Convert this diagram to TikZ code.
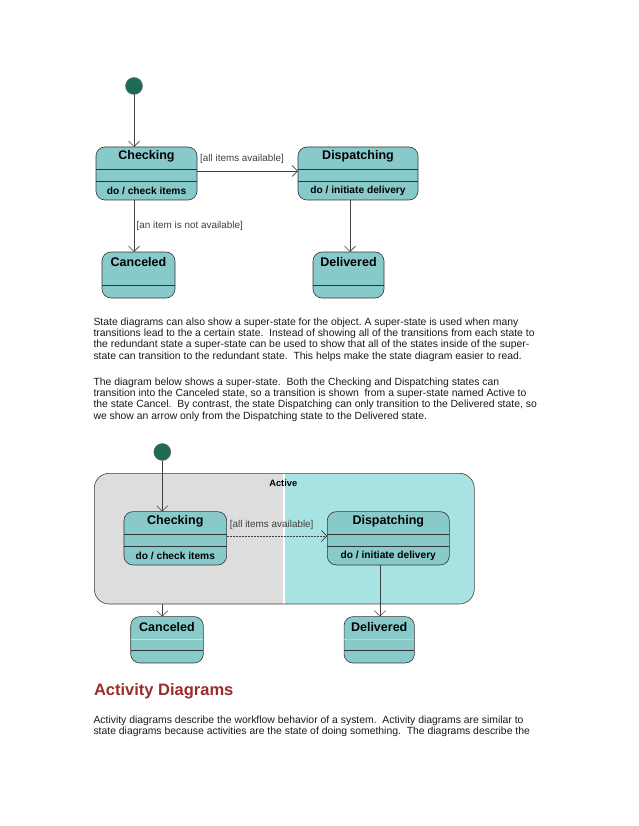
\documentclass[tikz,border=0pt]{standalone}
\usepackage{fontspec}
\setmainfont{Liberation Sans}
\usetikzlibrary{arrows.meta,calc}
\definecolor{stfill}{HTML}{88CACA}
\definecolor{dotc}{HTML}{1F6A55}
\definecolor{graybg}{HTML}{DDDDDD}
\definecolor{cyanbg}{HTML}{A8E3E3}
\definecolor{headc}{HTML}{9B2C2C}
\definecolor{txtc}{HTML}{1A1A1A}
\definecolor{faintc}{HTML}{A6DCDC}
\tikzset{
  st/.style={draw=black!80, fill=stfill, rounded corners=9pt, line width=0.6pt, inner sep=0pt, outer sep=0pt},
  sep/.style={draw=black!80, line width=0.6pt},
  nm/.style={font=\bfseries\fontsize{12.5}{14}\selectfont, inner sep=0pt},
  actv/.style={font=\bfseries\fontsize{10.2}{12}\selectfont, inner sep=0pt},
  grd/.style={font=\fontsize{9.9}{12}\selectfont, text=black!75, inner sep=0pt},
  tr/.style={-{Straight Barb[length=5.5pt,width=11pt]}, line width=0.6pt, draw=black!75},
  para/.style={font=\fontsize{10.4}{12}\selectfont, text=txtc, anchor=base west, inner sep=0pt},
  initdot/.style={circle, fill=dotc, draw=black!60, line width=0.4pt, minimum size=17pt, inner sep=0pt},
}
\begin{document}
\frenchspacing
\begin{tikzpicture}[x=1pt,y=-1pt]
\useasboundingbox[fill=white] (0,0) rectangle (638,826);

% ---------------- Diagram 1 ----------------
\node[initdot] (dot1) at (134,86) {};

\node[st, minimum width=101pt, minimum height=53pt] (chk1) at (146.5,173.5) {};
\draw[sep] ($(chk1.north west)+(0,22)$) -- ($(chk1.north east)+(0,22)$);
\draw[sep] ($(chk1.north west)+(0,34)$) -- ($(chk1.north east)+(0,34)$);
\node[nm] (chk1n) at (146.5,156) {Checking};
\node[actv] (chk1a) at (146.5,190.5) {do / check items};

\node[st, minimum width=120pt, minimum height=53pt] (dsp1) at (358,173.5) {};
\draw[sep] ($(dsp1.north west)+(0,22)$) -- ($(dsp1.north east)+(0,22)$);
\draw[sep] ($(dsp1.north west)+(0,34)$) -- ($(dsp1.north east)+(0,34)$);
\node[nm] (dsp1n) at (358,156) {Dispatching};
\node[actv] (dsp1a) at (358,190.5) {do / initiate delivery};

\node[st, minimum width=73pt, minimum height=46pt] (can1) at (138.5,275) {};
\draw[sep] ($(can1.north west)+(0,33)$) -- ($(can1.north east)+(0,33)$);
\node[nm] (can1n) at (138.5,262) {Canceled};

\node[st, minimum width=71pt, minimum height=46pt] (del1) at (348.5,275) {};
\draw[sep] ($(del1.north west)+(0,33)$) -- ($(del1.north east)+(0,33)$);
\node[nm] (del1n) at (348.5,262) {Delivered};

\coordinate (c1) at (134,0);
\coordinate (d1) at (350,0);
\draw[tr] (dot1) -- (dot1 |- chk1.north);
\draw[tr] ([yshift=2.5pt]chk1.east) -- ([yshift=2.5pt]dsp1.west);
\draw[tr] (chk1.south -| c1) -- (can1.north -| c1);
\draw[tr] (dsp1.south -| d1) -- (del1.north -| d1);
\node[grd] (g1) at (242,159) {[all items available]};
\node[grd, anchor=west] (g2) at (136.5,225.7) {[an item is not available]};

% ---------------- Text ----------------
\node[para] (p1a) at (93.3,325) {State diagrams can also show a super-state for the object. A super-state is used when many};
\node[para] (p1b) at (93.3,336.6) {transitions lead to the a certain state.\ \ Instead of showing all of the transitions from each state to};
\node[para] (p1c) at (93.3,347.8) {the redundant state a super-state can be used to show that all of the states inside of the super-};
\node[para] (p1d) at (93.3,359.1) {state can transition to the redundant state.\ \ This helps make the state diagram easier to read.};

\node[para] (p2a) at (93.3,385) {The diagram below shows a super-state.\ \ Both the Checking and Dispatching states can};
\node[para] (p2b) at (93.3,396.6) {transition into the Canceled state, so a transition is shown\ \ from a super-state named Active to};
\node[para] (p2c) at (93.3,407.8) {the state Cancel.\ \ By contrast, the state Dispatching can only transition to the Delivered state, so};
\node[para] (p2d) at (93.3,419.1) {we show an arrow only from the Dispatching state to the Delivered state.};

% ---------------- Diagram 2 ----------------
\begin{scope}
\clip[rounded corners=15pt] (94.3,473.3) rectangle (474.3,604);
\fill[graybg] (94.3,473.3) rectangle (284,604);
\fill[cyanbg] (284,473.3) rectangle (474.3,604);
\draw[white, line width=1.2pt] (284,473.3) -- (284,604);
\end{scope}
\node[draw=black!75, line width=0.6pt, rounded corners=15pt, minimum width=380pt, minimum height=130.7pt, inner sep=0pt, outer sep=0pt] (act) at (284.3,538.65) {};
\node[font=\bfseries\fontsize{9.3}{11}\selectfont, inner sep=0pt] (actn) at (283.3,483) {Active};

\node[initdot] (dot2) at (162.3,452) {};

\node[st, minimum width=102.7pt, minimum height=53.3pt] (chk2) at (175.3,538.3) {};
\draw[sep] ($(chk2.north west)+(0,22.3)$) -- ($(chk2.north east)+(0,22.3)$);
\draw[sep] ($(chk2.north west)+(0,34.3)$) -- ($(chk2.north east)+(0,34.3)$);
\node[nm] (chk2n) at (175.3,521) {Checking};
\node[actv] (chk2a) at (175.3,555.5) {do / check items};

\node[st, minimum width=122pt, minimum height=53.3pt] (dsp2) at (388.3,538.3) {};
\draw[sep] ($(dsp2.north west)+(0,22.3)$) -- ($(dsp2.north east)+(0,22.3)$);
\draw[sep] ($(dsp2.north west)+(0,34.3)$) -- ($(dsp2.north east)+(0,34.3)$);
\node[nm] (dsp2n) at (388.3,521) {Dispatching};
\node[actv] (dsp2a) at (388.3,555.5) {do / initiate delivery};

\node[st, minimum width=72.6pt, minimum height=46.3pt] (can2) at (167,639.8) {};
\draw[faintc!70!white, line width=0.6pt] ($(can2.north west)+(0,22.3)$) -- ($(can2.north east)+(0,22.3)$);
\draw[sep] ($(can2.north west)+(0,34)$) -- ($(can2.north east)+(0,34)$);
\node[nm] (can2n) at (167,627) {Canceled};

\node[st, minimum width=70.3pt, minimum height=46.3pt] (del2) at (379.2,639.8) {};
\draw[faintc, line width=0.8pt] ($(del2.north west)+(0,22.3)$) -- ($(del2.north east)+(0,22.3)$);
\draw[sep] ($(del2.north west)+(0,34)$) -- ($(del2.north east)+(0,34)$);
\node[nm] (del2n) at (379.2,627) {Delivered};

\coordinate (d2) at (380,0);
\draw[tr] (dot2) -- (dot2 |- chk2.north);
\draw[tr, dash pattern=on 2pt off 1pt] ([yshift=2.3pt]chk2.east) -- ([yshift=2.3pt]dsp2.west);
\draw[tr] (act.south -| dot2) -- (can2.north -| dot2);
\draw[tr] (dsp2.south -| d2) -- (del2.north -| d2);
\node[grd] (g3) at (271.7,525) {[all items available]};

% ---------------- Heading and text ----------------
\node[font=\bfseries\fontsize{16.5}{19}\selectfont, text=headc, anchor=base west, inner sep=0pt] (head) at (93.8,695) {Activity Diagrams};
\node[para] (p3a) at (93.3,723.3) {Activity diagrams describe the workflow behavior of a system.\ \ Activity diagrams are similar to};
\node[para] (p3b) at (93.3,734.6) {state diagrams because activities are the state of doing something.\ \ The diagrams describe the};
\end{tikzpicture}
\end{document}
